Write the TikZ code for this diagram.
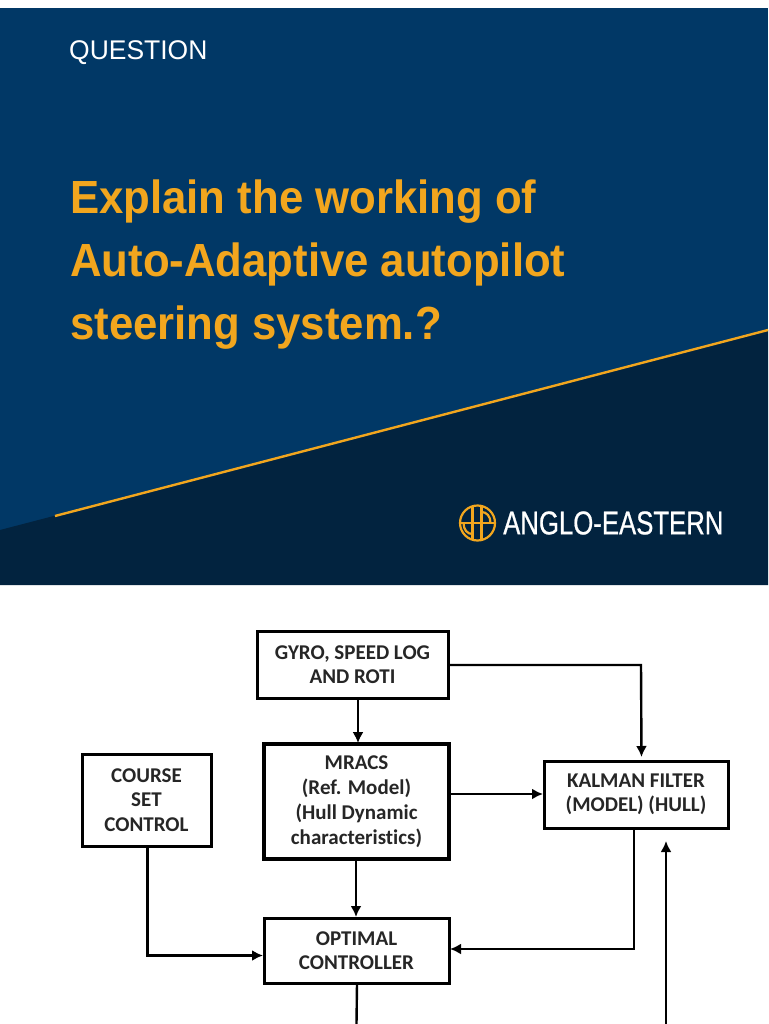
\documentclass[tikz,border=0pt]{standalone}
\usepackage{fontspec}
\setmainfont{Liberation Sans}
\newfontfamily\boxfont[Ligatures=NoCommon]{Carlito}
\usetikzlibrary{arrows.meta}
\definecolor{bannerblue}{HTML}{013866}
\definecolor{bannerdark}{HTML}{02233F}
\definecolor{gold}{HTML}{F2A61E}
\tikzset{
  block/.style={draw=black,fill=white,line width=3pt,align=center,inner sep=0pt,font=\boxfont\bfseries\fontsize{21}{24.5}\selectfont,text=black!85},
  link/.style={draw=black,line width=2.4pt,-{Latex[length=11pt,width=11pt]}},
  heading/.style={anchor=west,inner sep=0pt,text=gold,align=left,font=\bfseries\addfontfeature{FakeStretch=0.94}\fontsize{46.5}{63}\selectfont},
}
\begin{document}
\begin{tikzpicture}[x=1pt,y=-1pt]
\useasboundingbox (0,0) rectangle (768,1024);
\fill[white] (0,0) rectangle (768,1024);
\fill[bannerblue] (0,8) rectangle (768,585);
\fill[bannerdark] (0,530) -- (768,330) -- (768,585) -- (0,585) -- cycle;
\coordinate (ruleA) at (55,516);
\coordinate (ruleB) at (768,330);
\draw[gold,line width=2.4pt] (ruleA) -- (ruleB);
\node[anchor=west,inner sep=0pt,text=white,font=\fontsize{27}{30}\selectfont] (tag) at (69,53) {\addfontfeature{FakeStretch=0.98}QUESTION};
\node[heading] (title) at (70,265) {Explain the working of\\Auto-Adaptive autopilot\\steering system.?};
% logo
\begin{scope}[shift={(477.5,523)},gold,line width=2.2pt]
\draw (0,0) circle[radius=17.5];
\draw (-17,0) -- (17,0);
\draw (-5,17) -- (-5,-17);
\draw (4,-17) -- (4,17);
\draw (4,-11) .. controls (9,-11) and (13,-7) .. (13,0);
\draw (-5,11) .. controls (-10,11) and (-14,7) .. (-14,0);
\end{scope}
\node[anchor=west,text=white,inner sep=0pt] (brand) at (503,523) {\fontsize{33}{36}\selectfont\addfontfeature{FakeStretch=0.78,FakeBold=0.6}ANGLO-EASTERN};
% diagram
\node[block,minimum width=191pt,minimum height=67pt] (gyro) at (352.5,664.5) {GYRO, SPEED LOG\\AND ROTI};
\node[block,minimum width=185pt,minimum height=115pt,line width=3.6pt,font=\boxfont\bfseries\fontsize{21}{25}\selectfont] (mracs) at (356.5,801.5) {\rule{0pt}{5pt}MRACS\\(Ref. Model)\\(Hull Dynamic\\characteristics)};
\node[block,minimum width=129pt,minimum height=92pt] (course) at (146.5,800) {COURSE\\SET\\CONTROL};
\node[block,minimum width=185pt,minimum height=65pt] (optimal) at (356.5,950.5) {OPTIMAL\\CONTROLLER};
\node[block,minimum width=184pt,minimum height=67pt] (kalman) at (636,794.5) {KALMAN FILTER\\(MODEL) (HULL)};
\coordinate (c1) at (358,698);
\coordinate (c2) at (358,743);
\draw[link,line width=1.8pt] (c1) -- (c2);
\coordinate (c3) at (356,859);
\coordinate (c4) at (356,917);
\draw[link,line width=2.6pt] (c3) -- (c4);
\coordinate (c5) at (147.5,846);
\coordinate (c6) at (147.5,955.5);
\coordinate (c7) at (263,955.5);
\draw[link] (c5) -- (c6) -- (c7);
\coordinate (c8) at (448,665);
\coordinate (c9) at (641,665);
\coordinate (c10) at (641.5,757);
\draw[link] (c8) -- (c9) -- (c10);
\coordinate (c11) at (449,794);
\coordinate (c12) at (543,794);
\draw[link] (c11) -- (c12);
\coordinate (c13) at (634,828);
\coordinate (c14) at (634,949);
\coordinate (c15) at (450,949);
\draw[link] (c13) -- (c14) -- (c15);
\coordinate (c16) at (666,1024);
\coordinate (c17) at (666,841);
\draw[link] (c16) -- (c17);
\coordinate (c18) at (357,983);
\coordinate (c19) at (356.5,1024);
\draw[draw=black,line width=2.4pt] (c18) -- (c19);
\end{tikzpicture}
\end{document}
